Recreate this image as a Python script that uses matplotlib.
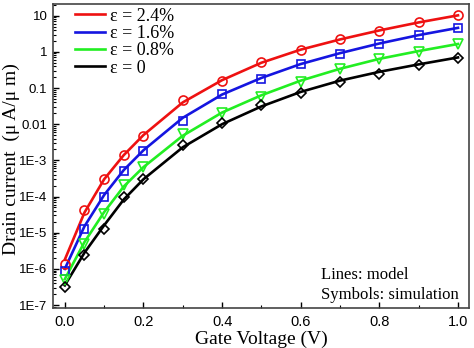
import matplotlib
matplotlib.use("Agg")
import matplotlib.pyplot as plt
from matplotlib.ticker import FixedLocator, FixedFormatter, LogLocator, NullFormatter, MultipleLocator

# gate voltage sample points (V)
vg = [0.0, 0.05, 0.1, 0.15, 0.2, 0.3, 0.4, 0.5, 0.6, 0.7, 0.8, 0.9, 1.0]

# drain current (uA/um), simulation symbols
sim_24 = [1.4e-6, 4.2e-5, 3.0e-4, 1.45e-3, 4.8e-3, 0.047, 0.16, 0.53, 1.15, 2.3, 3.8, 6.8, 10.5]
sim_16 = [8.5e-7, 1.3e-5, 1.0e-4, 5.0e-4, 1.8e-3, 0.012, 0.069, 0.18, 0.47, 0.89, 1.66, 2.97, 4.5]
sim_08 = [4.8e-7, 4.8e-6, 3.3e-5, 2.1e-4, 6.6e-4, 5.4e-3, 0.021, 0.058, 0.15, 0.34, 0.64, 1.0, 1.6]
sim_00 = [3.2e-7, 2.4e-6, 1.3e-5, 1.0e-4, 3.1e-4, 2.6e-3, 0.011, 0.034, 0.074, 0.15, 0.25, 0.44, 0.68]

# model lines
mod_24 = [1.8e-6, 3.6e-5, 3.0e-4, 1.4e-3, 5.0e-3, 0.040, 0.165, 0.50, 1.15, 2.2, 3.9, 6.5, 10.2]
mod_16 = [1.0e-6, 1.5e-5, 1.1e-4, 5.4e-4, 1.9e-3, 0.015, 0.066, 0.19, 0.46, 0.92, 1.7, 2.9, 4.6]
mod_08 = [5.2e-7, 5.5e-6, 3.7e-5, 1.9e-4, 6.5e-4, 4.8e-3, 0.021, 0.063, 0.16, 0.34, 0.64, 1.05, 1.65]
mod_00 = [3.5e-7, 2.8e-6, 1.6e-5, 8.3e-5, 3.0e-4, 2.3e-3, 0.010, 0.031, 0.078, 0.16, 0.28, 0.45, 0.70]

labels = ["\u03b5 = 2.4%", "\u03b5 = 1.6%", "\u03b5 = 0.8%", "\u03b5 = 0"]
colors = ["#ee1111", "#1515e0", "#22ee22", "#000000"]
markers = ["o", "s", "v", "D"]
msizes = [6.5, 5.5, 6.5, 5.5]

ytick_vals = [1e-7, 1e-6, 1e-5, 1e-4, 1e-3, 1e-2, 1e-1, 1, 10]
ytick_labels = ["1E-7", "1E-6", "1E-5", "1E-4", "1E-3", "0.01", "0.1", "1", "10"]

SERIF = "Liberation Serif"
SANS = "Liberation Sans"

fig = plt.figure(figsize=(4.74, 3.48), dpi=100)
ax = fig.add_axes([53 / 474, 1 - 308 / 348, (469 - 53) / 474, (308 - 4) / 348])

sims = [sim_24, sim_16, sim_08, sim_00]
mods = [mod_24, mod_16, mod_08, mod_00]
for sim, mod, lab, c, m, ms in zip(sims, mods, labels, colors, markers, msizes):
    ax.plot(vg, mod, color=c, linewidth=1.9, label=lab, zorder=3)
    ax.plot(vg, sim, linestyle="none", marker=m, markersize=ms,
            markerfacecolor="none", markeredgecolor=c, markeredgewidth=1.2, zorder=4)

ax.set_yscale("log")
ax.set_xlim(-0.03, 1.028)
ax.set_ylim(8.3e-8, 21)

ax.yaxis.set_major_locator(FixedLocator(ytick_vals))
ax.yaxis.set_major_formatter(FixedFormatter(ytick_labels))
ax.yaxis.set_minor_locator(LogLocator(base=10, subs=range(2, 10)))
ax.yaxis.set_minor_formatter(NullFormatter())
ax.xaxis.set_major_locator(MultipleLocator(0.2))
ax.xaxis.set_minor_locator(MultipleLocator(0.1))
ax.xaxis.set_major_formatter(plt.FuncFormatter(lambda v, p: f"{v:.1f}"))

ax.tick_params(which="both", direction="in", top=False, right=False)
ax.tick_params(which="major", length=4, width=1, pad=5)
ax.tick_params(axis="x", which="major", labelsize=10.5)
ax.tick_params(axis="y", which="major", labelsize=9.5, pad=4)
ax.tick_params(which="minor", length=2, width=0.8)
for t in ax.get_xticklabels() + ax.get_yticklabels():
    t.set_family(SANS)
for sp in ax.spines.values():
    sp.set_color("#444444")
    sp.set_linewidth(1.2)

ax.set_xlabel("Gate Voltage (V)", family=SERIF, fontsize=14, labelpad=1)
fig.text(11 / 474, 1 - 159 / 348, "Drain current  (\u03bc A/\u03bc m)", family=SERIF,
         fontsize=14, rotation=90, ha="center", va="center")

ax.legend(loc="upper left", bbox_to_anchor=(0.035, 1.012), frameon=False,
          prop={"family": SERIF, "size": 13}, handlelength=1.7,
          handletextpad=0.25, labelspacing=0.02, borderaxespad=0.0)

ax.text(0.645, 0.109, "Lines: model", transform=ax.transAxes, family=SERIF,
        fontsize=12, va="center")
ax.text(0.645, 0.044, "Symbols: simulation", transform=ax.transAxes, family=SERIF,
        fontsize=12, va="center")

fig.savefig("out.png", dpi=100, facecolor="white")
